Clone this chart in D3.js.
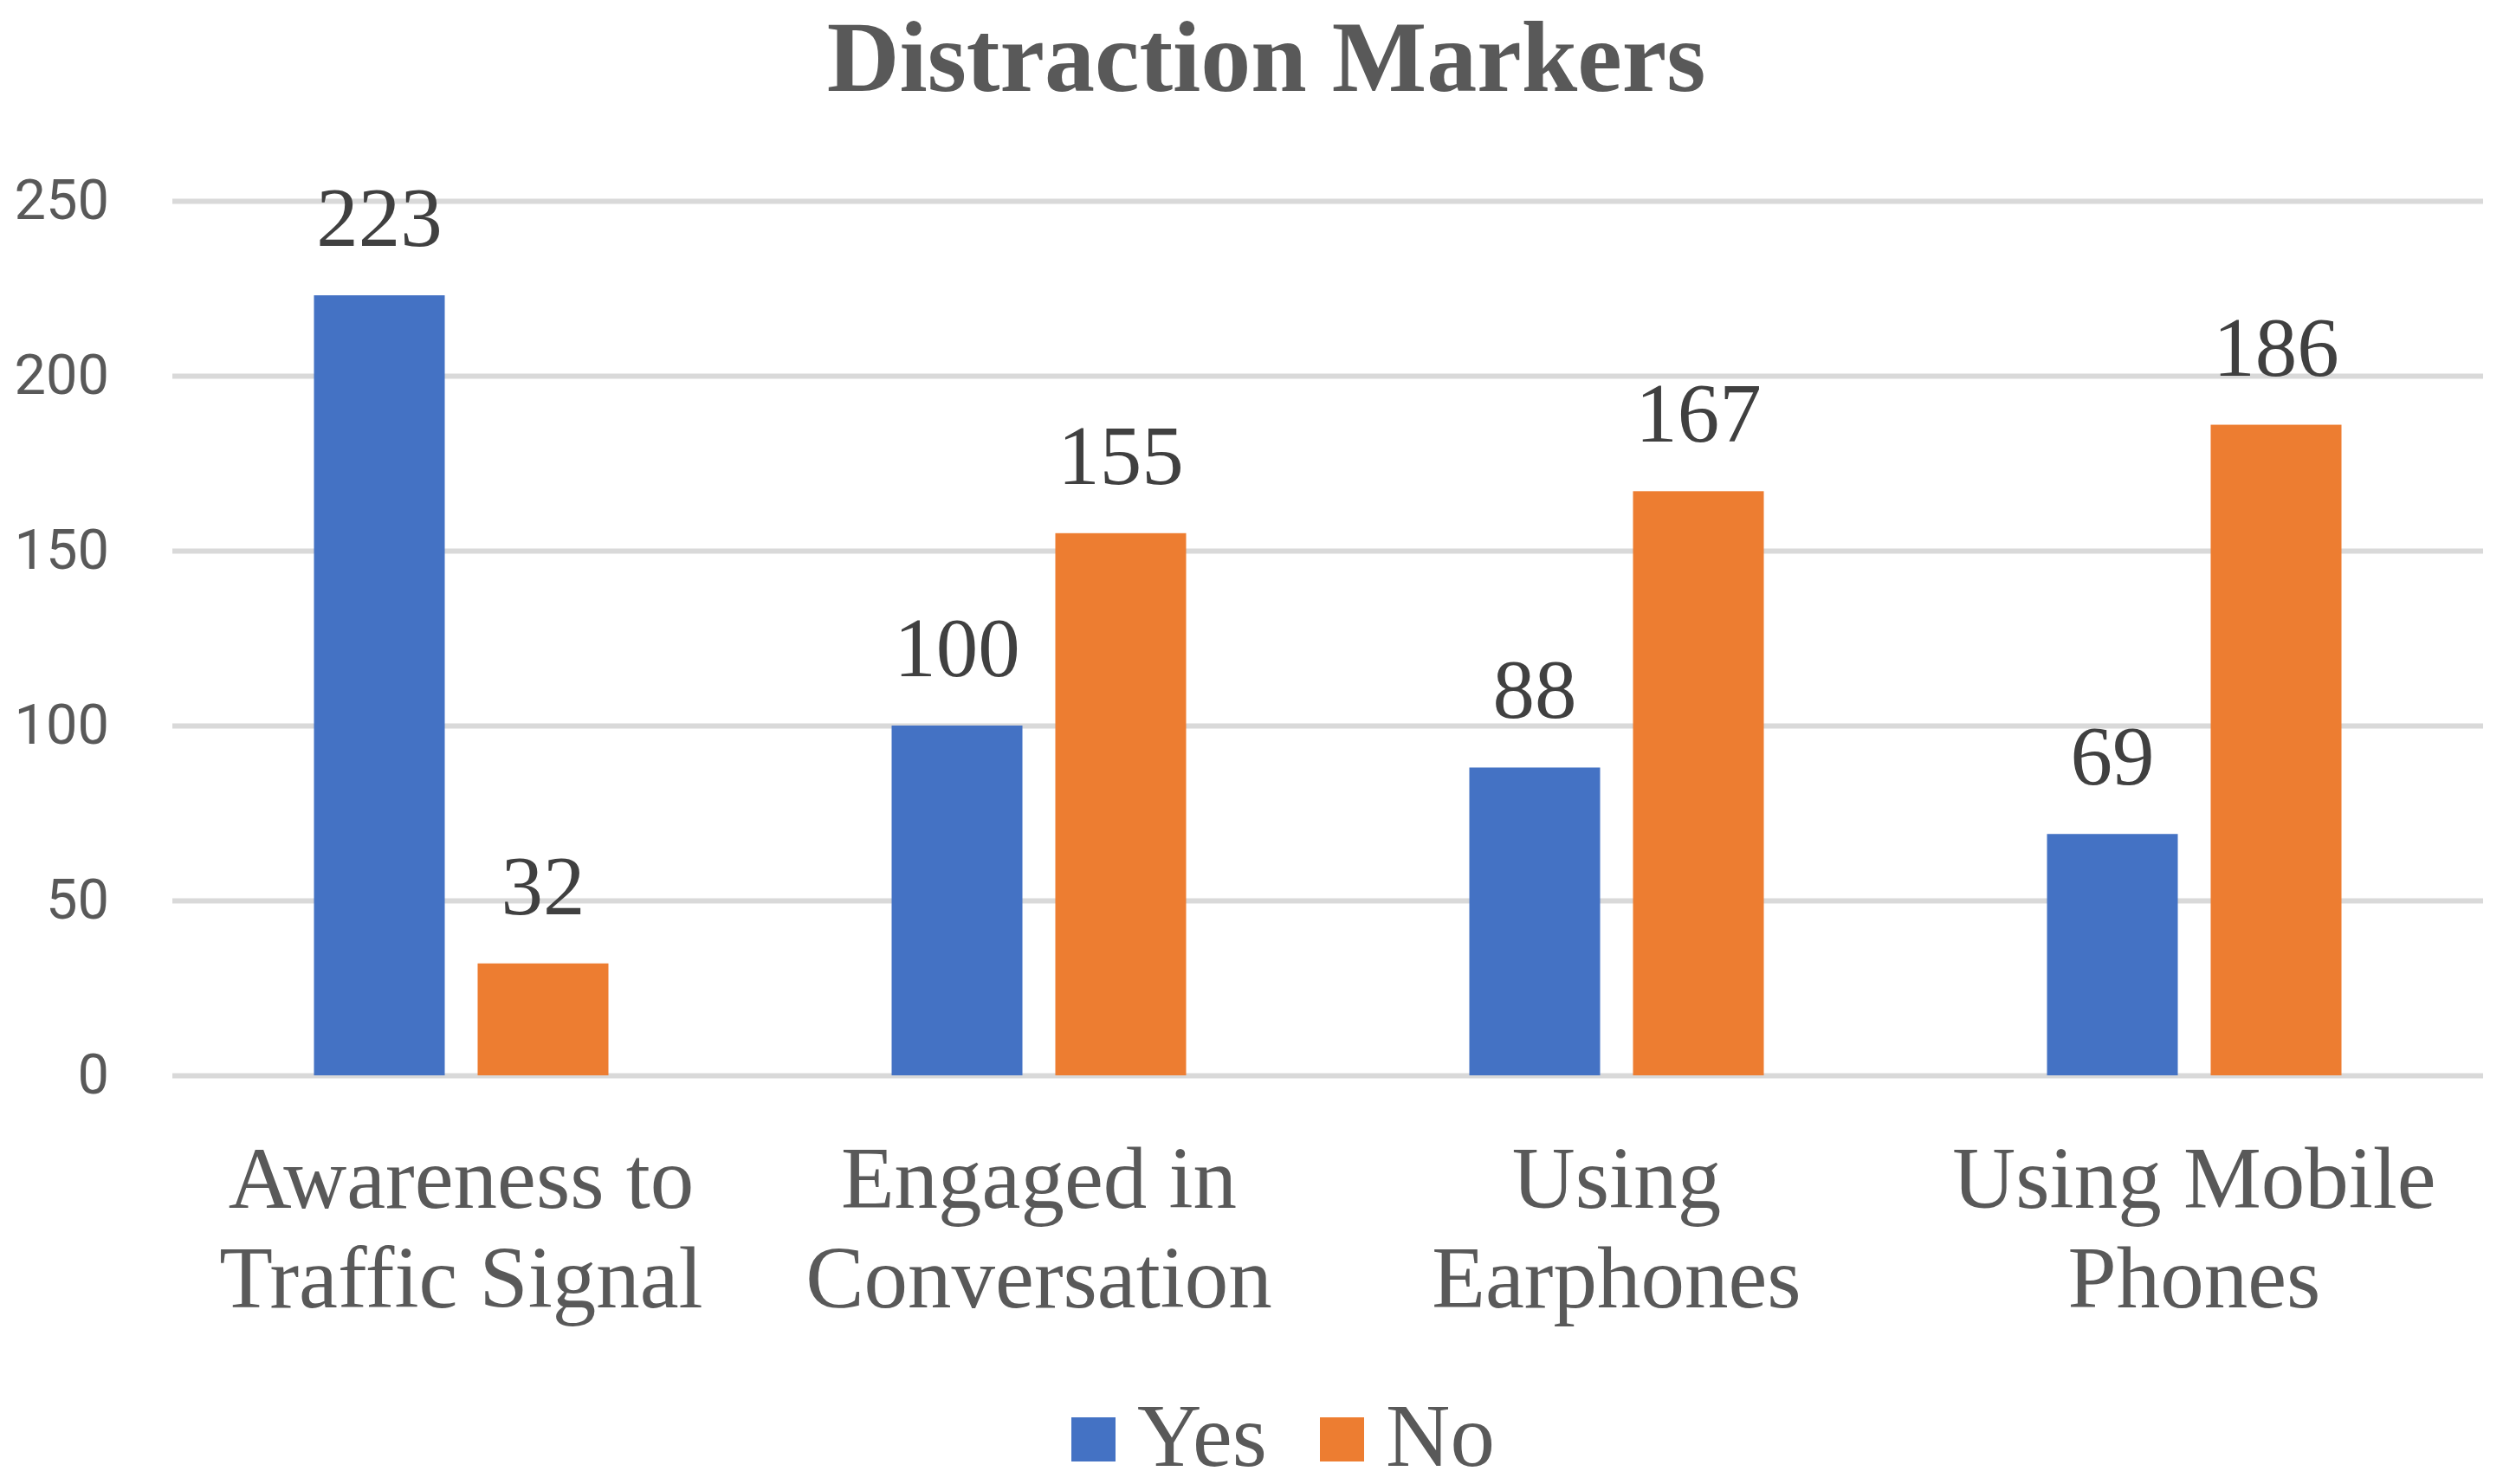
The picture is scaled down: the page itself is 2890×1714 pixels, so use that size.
<!DOCTYPE html>
<html>
<head>
<meta charset="utf-8">
<script src="https://cdn.jsdelivr.net/npm/d3@7"></script>
<style>
  body { margin: 0; background: #fff; }
</style>
</head>
<body>
<div id="chart"></div>
<script>
// chart data
const categories = ["Awareness to Traffic Signal", "Engaged in Conversation", "Using Earphones", "Using Mobile Phones"];
const categoryLines = [["Awareness to", "Traffic Signal"], ["Engaged in", "Conversation"], ["Using", "Earphones"], ["Using Mobile", "Phones"]];
const seriesNames = ["Yes", "No"];
const yesValues = [223, 100, 88, 69];
const noValues = [32, 155, 167, 186];
const yTicks = [0, 50, 100, 150, 200, 250];
const titleText = "Distraction Markers";

const width = 2890;
const height = 1714;
const plot = { left: 199, right: 2867, top: 232, bottom: 1242 };
const colors = { Yes: "#4472c4", No: "#ed7d31" };
const serif = "'Liberation Serif', 'Times New Roman', serif";

const rows = categories.map((c, i) => ({ cat: c, Yes: yesValues[i], No: noValues[i] }));

const svg = d3.select("#chart")
    .append("svg")
    .attr("width", width)
    .attr("height", height);

// scales
const x0 = d3.scaleBand()
    .domain(categories)
    .range([plot.left, plot.right]);

const x1 = d3.scaleBand()
    .domain(seriesNames)
    .range([163.5, 503.5])
    .paddingInner(0.201);

const y = d3.scaleLinear()
    .domain([0, 250])
    .range([plot.bottom, plot.top]);

// title
svg.append("text")
    .attr("x", 1462)
    .attr("y", 105)
    .attr("text-anchor", "middle")
    .attr("font-family", serif)
    .attr("font-weight", "bold")
    .attr("font-size", "116px")
    .attr("fill", "#595959")
    .text(titleText);

// y axis + gridlines
const yAxis = svg.append("g")
    .attr("transform", `translate(${plot.left},0)`)
    .call(d3.axisLeft(y).tickValues(yTicks).tickSize(-(plot.right - plot.left)).tickPadding(73));

yAxis.select(".domain").remove();
yAxis.selectAll(".tick line")
    .attr("stroke", "#d9d9d9")
    .attr("stroke-width", 6);
yAxis.selectAll(".tick text")
    .attr("font-family", "Roboto, 'Open Sans', sans-serif")
    .attr("font-size", "65px")
    .attr("fill", "#595959");

// bars
const groups = svg.append("g")
    .selectAll("g")
    .data(rows)
    .join("g")
    .attr("transform", d => `translate(${x0(d.cat)},0)`);

groups.selectAll("rect")
    .data(d => seriesNames.map(s => ({ key: s, value: d[s] })))
    .join("rect")
    .attr("x", d => x1(d.key))
    .attr("y", d => y(d.value))
    .attr("width", x1.bandwidth())
    .attr("height", d => y(0) - y(d.value))
    .attr("fill", d => colors[d.key]);

// data labels
groups.selectAll("text")
    .data(d => seriesNames.map(s => ({ key: s, value: d[s] })))
    .join("text")
    .attr("x", d => x1(d.key) + x1.bandwidth() / 2)
    .attr("y", d => y(d.value) - 57)
    .attr("text-anchor", "middle")
    .attr("font-family", serif)
    .attr("font-size", "97px")
    .attr("fill", "#404040")
    .text(d => d.value);

// category labels
const catLabels = svg.append("g")
    .selectAll("text")
    .data(categories)
    .join("text")
    .attr("x", d => x0(d) + x0.bandwidth() / 2)
    .attr("y", 1395)
    .attr("text-anchor", "middle")
    .attr("font-family", serif)
    .attr("font-size", "101px")
    .attr("fill", "#595959");

catLabels.selectAll("tspan")
    .data((d, i) => categoryLines[i])
    .join("tspan")
    .attr("x", function () { return d3.select(this.parentNode).attr("x"); })
    .attr("dy", (d, i) => i === 0 ? 0 : 115)
    .text(d => d);

// legend
const legend = svg.append("g")
    .selectAll("g")
    .data(seriesNames)
    .join("g")
    .attr("transform", (d, i) => `translate(${1237 + i * 287},0)`);

legend.append("rect")
    .attr("x", 0)
    .attr("y", 1637)
    .attr("width", 51)
    .attr("height", 51)
    .attr("fill", d => colors[d]);

legend.append("text")
    .attr("x", 76)
    .attr("y", 1693)
    .attr("font-family", serif)
    .attr("font-size", "103px")
    .attr("fill", "#595959")
    .text(d => d);
</script>
</body>
</html>
